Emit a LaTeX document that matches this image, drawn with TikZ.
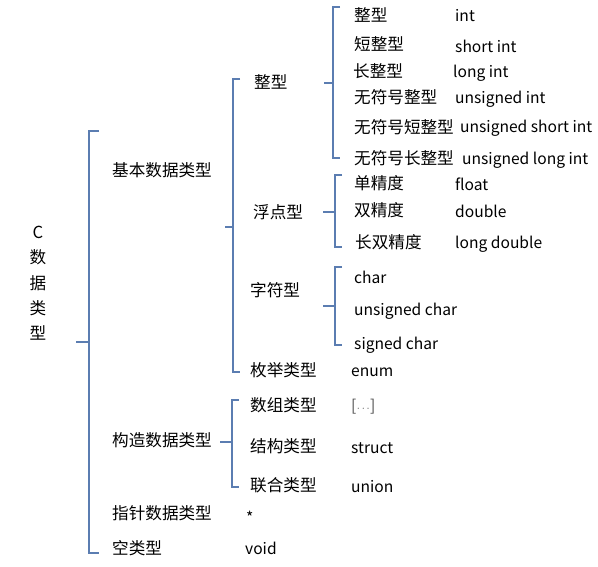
\documentclass[tikz,border=0pt]{standalone}
\usepackage{fontspec}
\setmainfont{Noto Sans CJK SC}
\definecolor{brc}{HTML}{5B7DB1}
\begin{document}
\begin{tikzpicture}[x=1pt,y=-1pt,
  lbl/.style={anchor=west,inner sep=0pt,font=\fontsize{16.6}{18}\selectfont},
  lat/.style={anchor=west,inner sep=0pt,font=\fontsize{15.6}{18}\selectfont},
  vt/.style={inner sep=0pt,font=\fontsize{16.6}{18}\selectfont},
  brc/.style={draw=brc,line width=1.1pt}]
\useasboundingbox (0,0) rectangle (598,567);
% vertical title
\node[vt] (tc) at (38,232) {C};
\node[vt] (t1) at (38,257) {数};
\node[vt] (t2) at (38,283) {据};
\node[vt] (t3) at (38,308) {类};
\node[vt] (t4) at (38,333) {型};
% level 1
\node[lbl] (basic) at (112,170) {基本数据类型};
\node[lbl] (cons) at (112,440) {构造数据类型};
\node[lbl] (ptr) at (112,513) {指针数据类型};
\node[lbl] (void) at (112,548) {空类型};
% level 2
\node[lbl] (int) at (254,82) {整型};
\node[lbl] (flt) at (253,212) {浮点型};
\node[lbl] (chr) at (250,290) {字符型};
\node[lbl] (enm) at (250,370) {枚举类型};
\node[lbl] (arr) at (250,405) {数组类型};
\node[lbl] (str) at (250,446) {结构类型};
\node[lbl] (uni) at (250,485) {联合类型};
\node[lat] (ptrk) at (246,517) {*};
\node[lat] (voidk) at (245,548) {void};
% level 3 Chinese
\node[lbl] (i1) at (354,15) {整型};
\node[lbl] (i2) at (354,44) {短整型};
\node[lbl] (i3) at (353,71) {长整型};
\node[lbl] (i4) at (354,97) {无符号整型};
\node[lbl] (i5) at (354,127) {无符号短整型};
\node[lbl] (i6) at (354,158) {无符号长整型};
\node[lbl] (f1) at (354,183) {单精度};
\node[lbl] (f2) at (354,210) {双精度};
\node[lbl] (f3) at (355,242) {长双精度};
\node[lat] (c1) at (354,277) {char};
\node[lat] (c2) at (354,311) {unsigned char};
\node[lat] (c3) at (354,345) {signed char};
\node[lat] (enk) at (351,372) {enum};
\node[lat,text=black!70] (ark) at (351,407) {[\kern0.5pt{\fontsize{11}{11}\selectfont$\cdots$}\kern0.5pt]};
\node[lat] (stk) at (351,448) {struct};
\node[lat] (unk) at (351,487) {union};
% level 3 keywords
\node[lat] (k1) at (455,16) {int};
\node[lat] (k2) at (455,46) {short int};
\node[lat] (k3) at (453,73) {long int};
\node[lat] (k4) at (455,99) {unsigned int};
\node[lat] (k5) at (460,128) {unsigned short int};
\node[lat] (k6) at (462,160) {unsigned long int};
\node[lat] (fk1) at (455,184) {float};
\node[lat] (fk2) at (455,211) {double};
\node[lat] (fk3) at (455,244) {long double};
% braces
\draw[brc] (99,131) -- (89,131) -- (89,553) -- (99,553);
\draw[brc] (89,342) -- (76,342);
\draw[brc] (240,79) -- (233,79) -- (233,372) -- (240,372);
\draw[brc] (233,227) -- (225,227);
\draw[brc] (340,7) -- (333,7) -- (333,158) -- (340,158);
\draw[brc] (333,83) -- (324,83);
\draw[brc] (342,175) -- (335,175) -- (335,247) -- (342,247);
\draw[brc] (335,212) -- (323,212);
\draw[brc] (342,267) -- (335,267) -- (335,345) -- (342,345);
\draw[brc] (335,306) -- (323,306);
\draw[brc] (239,400) -- (232,400) -- (232,487) -- (239,487);
\draw[brc] (232,442) -- (220,442);
\end{tikzpicture}
\end{document}
